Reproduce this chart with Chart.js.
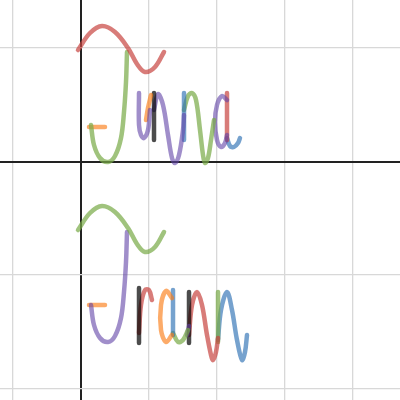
<!DOCTYPE html><html><head><meta charset="utf-8">
<script src="https://cdn.jsdelivr.net/npm/chart.js@4"></script>
<style>html,body{margin:0;padding:0;background:#fff}#w{width:400px;height:400px}</style></head><body>
<div id="w"><canvas id="c"></canvas></div>
<script>
const xTicks=[-68,0,68,136,204,272];
const yTicks=[114,0,-113,-227];
const RED='rgba(199,68,64,0.7)',BLUE='rgba(45,112,179,0.65)',GREEN='rgba(120,170,70,0.7)',PURPLE='rgba(96,66,166,0.6)',ORANGE='rgba(250,126,25,0.65)',BLACK='rgba(0,0,0,0.7)';
const P=a=>a.map(([x,y])=>({x,y}));
// top word "Juna"
const topSine=[[-3,112],[9,129],[21,136],[34,130],[47,114],[56,98],[64,90],[74,95],[83,110]];
const topJ=[[46,110],[45,80],[43,50],[40,24],[34,6],[27,0],[19,4],[13,17],[10,37]];
const topDash=[[8,35],[24,35]];
const topU=[[58,69],[58,37],[60,27],[63,24],[67,32],[69,52]];
const topOrange=[[65,42],[67,54],[70,67]];
const topBlack=[[73,69],[73,22]];
const topPurpleWave=[[73,52],[77,68],[82,57],[87,27],[91,4],[94,-1],[98,7],[102,32],[103,47]];
const topBlue=[[103,69],[103,22]];
const topGreenWave=[[103,52],[107,66],[111,69],[115,62],[119,32],[122,7],[124,-1],[127,4],[130,22],[133,42]];
const topA=[[146,62],[141,66],[136,57],[134,40],[136,22],[140,15],[144,19],[146,27]];
const topRed=[[146,69],[146,22]];
const topTail=[[146,24],[149,16],[153,15],[157,19],[159,24]];
// bottom word "Iran"
const botSine=[[-3,-68],[9,-51],[21,-44],[34,-50],[47,-66],[56,-82],[64,-90],[74,-85],[83,-70]];
const botJ=[[46,-70],[45,-100],[43,-130],[40,-156],[34,-174],[27,-180],[19,-176],[13,-163],[10,-143]];
const botDash=[[8,-143],[24,-143]];
const botBlack1=[[58,-126],[58,-181]];
const botR=[[58,-171],[60,-143],[64,-128],[68,-128],[71,-138]];
const botA=[[91,-136],[85,-129],[80,-143],[80,-168],[85,-180],[91,-173]];
const botBlue=[[92,-128],[92,-173]];
const botU=[[92,-171],[97,-180],[102,-178],[107,-168]];
const botPurple=[[106,-173],[108,-164]];
const botBlack2=[[108,-130],[108,-181]];
const botRedWave=[[108,-173],[111,-143],[116,-130],[121,-143],[126,-173],[130,-193],[132,-198],[135,-190],[137,-176]];
const botGreen=[[137,-130],[137,-180]];
const botBlueWave=[[137,-178],[140,-148],[146,-130],[151,-148],[156,-178],[161,-198],[164,-190],[166,-173]];
const curves=[[topSine,RED],[topJ,GREEN],[topDash,ORANGE],[topU,PURPLE],[topOrange,ORANGE],[topBlack,BLACK],[topPurpleWave,PURPLE],[topBlue,BLUE],[topGreenWave,GREEN],[topA,PURPLE],[topRed,RED],[topTail,BLUE],
[botSine,GREEN],[botJ,PURPLE],[botDash,ORANGE],[botBlack1,BLACK],[botR,RED],[botA,ORANGE],[botBlue,BLUE],[botU,GREEN],[botPurple,PURPLE],[botBlack2,BLACK],[botRedWave,RED],[botGreen,GREEN],[botBlueWave,BLUE]];
const grid={color:c=>c.tick.value===0?'#222':'#d8d8d8',lineWidth:c=>c.tick.value===0?2:1.3,drawTicks:false};
new Chart(document.getElementById('c'),{type:'scatter',
data:{datasets:curves.map(([d,col])=>({data:P(d),showLine:true,borderColor:col,borderWidth:4.5,pointRadius:0,tension:0.35,borderCapStyle:'round',borderJoinStyle:'round',fill:false}))},
options:{responsive:true,maintainAspectRatio:false,animation:false,layout:{padding:0},
plugins:{legend:{display:false},tooltip:{enabled:false}},
scales:{x:{type:'linear',min:-81,max:319,afterBuildTicks:s=>{s.ticks=xTicks.map(v=>({value:v}))},ticks:{display:false},grid,border:{display:false}},
y:{type:'linear',min:-238,max:162,afterBuildTicks:s=>{s.ticks=yTicks.map(v=>({value:v}))},ticks:{display:false},grid,border:{display:false}}}}});
</script></body></html>
